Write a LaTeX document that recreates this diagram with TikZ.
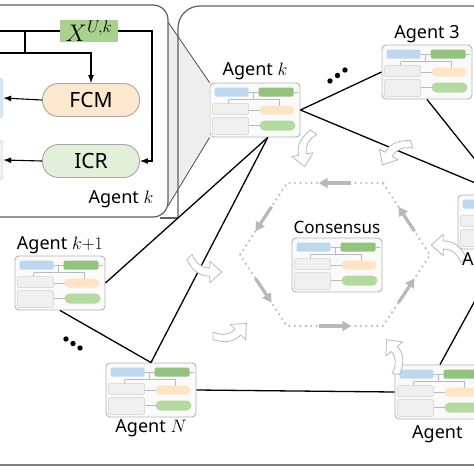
\documentclass[tikz,border=0pt]{standalone}
\usepackage{fontspec}
\setmainfont{Noto Sans}
\usepackage{fix-cm}
\usetikzlibrary{arrows.meta,positioning,calc}
\definecolor{agblue}{HTML}{BDD7EE}
\definecolor{aggreen}{HTML}{93C47D}
\definecolor{agorange}{HTML}{FCE4C4}
\definecolor{agpill}{HTML}{B5DA9F}
\definecolor{boxgray}{HTML}{F0F0F0}
\definecolor{boxline}{HTML}{D0D0D0}
\definecolor{agborder}{HTML}{B4B4B4}
\definecolor{agfill}{HTML}{FAFAFA}
\definecolor{fcmfill}{HTML}{FBE8CF}
\definecolor{icrfill}{HTML}{E2EFD9}
\definecolor{xgreen}{HTML}{A9D18E}
\definecolor{framegray}{HTML}{5F5F5F}
\definecolor{callfill}{HTML}{EEEEEE}

\begin{document}
\begin{tikzpicture}[x=1pt,y=-1pt,>=Latex,
  lbl/.style={font=\fontsize{18}{20}\selectfont,inner sep=1pt},
  agent/.style={draw=agborder,fill=agfill,line width=0.9pt,rounded corners=4pt,
    minimum width=90pt,minimum height=54pt,inner sep=0pt},
  agentparts/.pic={
    \draw[gray!55,line width=0.6pt] (39,9.5) -- (49,9.5) (44,9.5) -- (44,17) (19,17) -- (70,17)
      (19,17) -- (19,21) (70,17) -- (70,23) (39,27.5) -- (50,27.5) (39,43) -- (50,43)
      (84,9.5) -- (88,9.5);
    \fill[agblue,rounded corners=1.5pt] (5,5) rectangle (39,14);
    \fill[aggreen,rounded corners=1.5pt] (49,5) rectangle (84,14);
    \filldraw[fill=boxgray,draw=boxline,line width=0.6pt,rounded corners=2pt] (3,21) rectangle (39,32);
    \filldraw[fill=boxgray,draw=boxline,line width=0.6pt,rounded corners=2pt] (3,35) rectangle (39,52);
    \fill[agorange,rounded corners=4.5pt] (50,23) rectangle (85,32);
    \fill[agpill,rounded corners=5pt] (50,38) rectangle (86,48);},
  pill/.style={draw=gray!70,line width=0.9pt,rounded corners=16pt,minimum width=97pt,
    minimum height=33pt,font=\fontsize{21}{24}\selectfont},
  part/.style={draw=boxline,rounded corners=3pt,minimum width=46pt,minimum height=40pt},
  arr/.style={->,line width=1.1pt},
  wire/.style={line width=1.1pt},
  edge/.style={line width=1.3pt},
  hexline/.style={gray!55,line width=2.4pt,line cap=round,dash pattern=on 0pt off 5.5pt},
  hexarrow/.style={gray!55,line width=3.2pt,-{Triangle[length=9pt,width=10pt]}},
  swirl/.pic={\filldraw[fill=white,draw=gray!55,line width=0.8pt,line join=round,scale=1.35]
    (11,0) -- (2,-8) -- (2,-3) .. controls (-4,-3) and (-8,-6) .. (-11,-13) -- (-15,-9)
    .. controls (-10,0) and (-5,3) .. (2,3) -- (2,8) -- cycle;}]
  \useasboundingbox (0,0) rectangle (474,474);
  \clip (0,0) rectangle (474,474);
  % 智能体
  \node[agent] (ak) at (255,110) {};
  \node[agent] (a3) at (427,72) {};
  \node[agent] (ar) at (503,222) {};
  \node[agent] (akp) at (60,283) {};
  \node[agent] (aN) at (151,390) {};
  \node[agent] (abr) at (440,392) {};
  \node[agent] (cons) at (337,265) {};
  \foreach \n in {ak,a3,ar,akp,aN,abr,cons}
    \pic at (\n.north west) {agentparts};
  % 放大示意
  \coordinate (c1) at (168,22);
  \coordinate (c2) at (168,206);
  \fill[callfill] (c1) -- (ak.north west) -- (ak.south west) -- (c2) -- cycle;
  \draw[gray!60!black,line width=0.8pt] (c1) -- (ak.north west) (ak.south west) -- (c2);
  % 局部框
  \draw[framegray,fill=white,line width=1.2pt,rounded corners=15pt] (-30,5) rectangle (168,217);
  \node[fill=xgreen,minimum width=58pt,minimum height=22pt,inner sep=0pt,
    font=\fontsize{24}{26}\selectfont] (xu) at (89,31) {$X^{U,k}$};
  \node[pill,fill=fcmfill] (fcm) at (91,100) {FCM};
  \node[pill,fill=icrfill] (icr) at (91,161) {ICR};
  \node[part,fill=agblue!60] (pb) at (-20,98) {};
  \node[part,fill=boxgray] (pg) at (-20,160) {};
  \draw[arr] (fcm.west) -- (pb.east);
  \draw[arr] (icr.west) -- (pg.east);
  \coordinate (wl) at (-5,31);
  \coordinate (t1) at (25,31);
  \coordinate (t2) at (25,53);
  \coordinate (wl2) at (-5,53);
  \coordinate (rw) at (152,161);
  \draw[wire] (xu.west) -- (wl) (t1) -- (t2);
  \draw[arr] (wl2) -| (fcm.north);
  \draw[arr] (xu.east) -| (rw) -- (icr.east);
  \node[lbl] (lins) at (121,199) {Agent $k$};
  % 外框
  \draw[framegray,line width=1.2pt] (160,218) -- (178,218);
  \draw[framegray,line width=1.2pt,rounded corners=22pt] (178,218) -- (178,6) -- (500,6);
  \draw[framegray!80,line width=1.4pt] (-5,465) -- (480,465);
  % 通信连线
  \draw[edge] (ak.east) -- (a3.west);
  \draw[edge] (ak.east) -- (ar.north);
  \draw[edge] (a3.south) -- (ar.north);
  \draw[edge] (ak.-65) -- (akp.east);
  \draw[edge] (ak.-65) -- (aN.north);
  \draw[edge] (akp.south) -- (aN.north);
  \draw[edge] (aN.east) -- (abr.west);
  \draw[edge] (abr.north) -- (ar.south);
  % 省略号
  \foreach \i in {0,1,2}
    \fill (330+7.5*\i,81-5.5*\i) circle (2.7pt);
  \foreach \i in {0,1,2}
    \fill (66+7*\i,339+4.5*\i) circle (2.7pt);
  % 共识六边形
  \coordinate (h1) at (383,183);
  \coordinate (h2) at (287,183);
  \coordinate (h3) at (240,255);
  \coordinate (h4) at (287,326);
  \coordinate (h5) at (383,326);
  \coordinate (h6) at (430,255);
  \draw[hexline] (h1) -- (h2) -- (h3) -- (h4) -- (h5) -- (h6) -- cycle;
  \foreach \a/\b in {h1/h2,h2/h3,h3/h4,h4/h5,h5/h6,h6/h1}
    \draw[hexarrow] ($(\a)!0.33!(\b)$) -- ($(\a)!0.67!(\b)$);
  \node[font=\bfseries\fontsize{17}{20}\selectfont,inner sep=1pt,above=3pt of cons] (lcons) {Consensus};
  % 趋同箭头
  \pic[rotate=-80] at (302,152) {swirl};
  \pic[rotate=-120] at (390,152) {swirl};
  \pic at (207,272) {swirl};
  \pic[rotate=45] at (236,334) {swirl};
  \pic[rotate=130] at (396,351) {swirl};
  \pic[rotate=180] at (446,245) {swirl};
  % 标签
  \node[lbl,above=2pt of ak] (lak) {Agent $k$};
  \node[lbl,above=1pt of a3] (la3) {Agent 3};
  \node[lbl,above=1pt of akp] (lakp) {Agent $k{+}1$};
  \node[lbl,below=1pt of aN] (laN) {Agent $N$};
  \node[lbl,anchor=north west] (labr) at (411,424) {Agent};
  \node[lbl,anchor=north west] (lar) at (461,251) {A};
\end{tikzpicture}
\end{document}
